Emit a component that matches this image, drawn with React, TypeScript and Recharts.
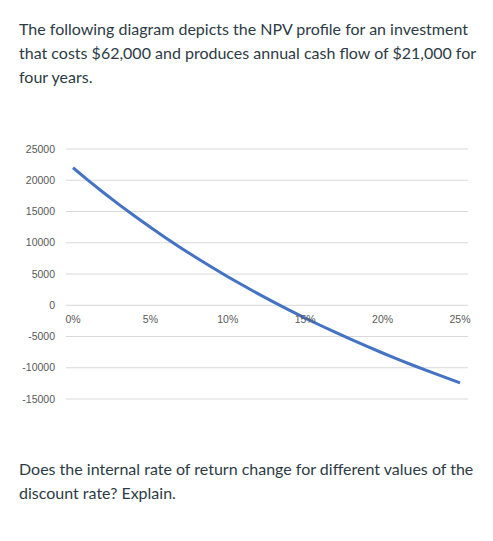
import React from 'react';
import { LineChart, Line, XAxis, YAxis, CartesianGrid, ReferenceDot } from 'recharts';

const rates = ['0%','1%','2%','3%','4%','5%','6%','7%','8%','9%','10%','11%','12%','13%','14%','15%','16%','17%','18%','19%','20%','21%','22%','23%','24%','25%'];
const npv = [22000,19940,17960,16060,14230,12470,10770,9130,7550,6030,4570,3150,1780,460,-810,-2050,-3240,-4390,-5510,-6590,-7640,-8650,-9640,-10590,-11510,-12410];
const xTickLabels = ['0%','5%','10%','15%','20%','25%'];
const yTicks = [-15000,-10000,-5000,0,5000,10000,15000,20000,25000];

const data = rates.map((r, i) => ({ rate: r, npv: npv[i] }));

const textStyle: React.CSSProperties = {
  position: 'absolute',
  left: 11,
  fontFamily: 'Lato, sans-serif',
  fontSize: 16,
  lineHeight: '24px',
  color: '#2d3b45',
  whiteSpace: 'nowrap',
  margin: 0,
};

const tickFont = { fontFamily: '"Liberation Sans", Arial, sans-serif', fontSize: 10.5, fill: '#595959' };

export default function App() {
  return (
    <div style={{ position: 'relative', width: 477, height: 525 }}>
      <div style={{ ...textStyle, top: 9 }}>
        The following diagram depicts the NPV profile for an investment<br />
        that costs $62,000 and produces annual cash flow of $21,000 for<br />
        four years.
      </div>
      <div style={{ position: 'absolute', left: 0, top: 122 }}>
        <LineChart width={470} height={300} data={data} margin={{ top: 19, right: 10, bottom: 31, left: 0 }}>
          <CartesianGrid vertical={false} stroke="#d9d9d9" strokeWidth={1} />
          <XAxis dataKey="rate" hide padding={{ left: 7, right: 8 }} />
          <YAxis
            domain={[-15000, 25000]}
            ticks={yTicks}
            width={58}
            axisLine={false}
            tickLine={false}
            tickSize={6}
            tickMargin={5}
            tick={tickFont}
            interval={0}
          />
          {xTickLabels.map((l) => (
            <ReferenceDot
              key={l}
              x={l}
              y={0}
              r={0}
              fill="none"
              stroke="none"
              ifOverflow="visible"
              label={{ value: l, position: 'bottom', offset: 10, ...tickFont }}
            />
          ))}
          <Line type="linear" dataKey="npv" stroke="#4472c4" strokeWidth={3} dot={false} isAnimationActive={false} />
        </LineChart>
      </div>
      <div style={{ ...textStyle, top: 449 }}>
        Does the internal rate of return change for different values of the<br />
        discount rate? Explain.
      </div>
    </div>
  );
}
